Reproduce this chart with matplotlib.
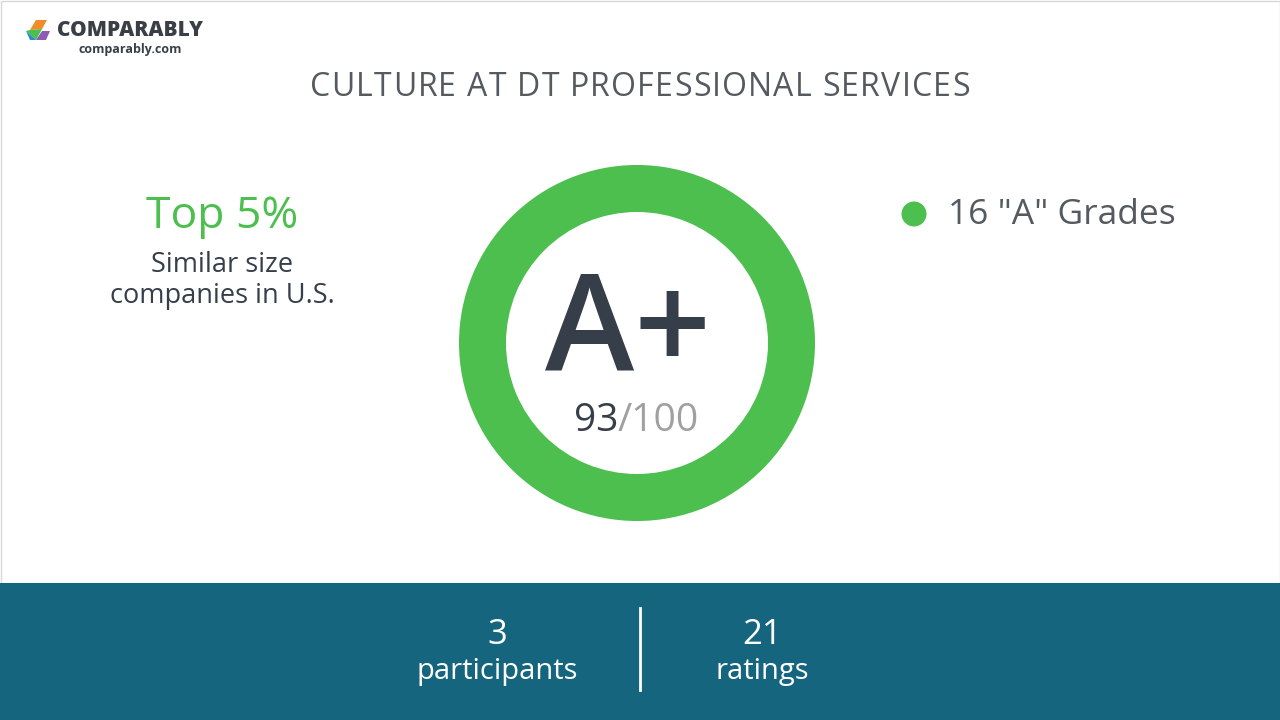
import matplotlib
matplotlib.use('Agg')
import matplotlib.pyplot as plt
from matplotlib.patches import Rectangle, Polygon, Circle

plt.rcParams['font.family'] = ['Open Sans', 'DejaVu Sans']

# Data
company = 'DT PROFESSIONAL SERVICES'
grade = 'A+'
score = 93
score_max = 100
grade_labels = ['A', 'B', 'C', 'D', 'F']
grade_counts = [16, 0, 0, 0, 0]
grade_colors = ['#4cbf4f', '#f5c342', '#f39c3c', '#e8643c', '#d9423c']
percentile = 5
participants = 3
ratings = 21

DARK = '#353e49'
GRAY = '#555a60'
GREEN = '#4cbf4f'
BAND = '#16657f'

fig = plt.figure(figsize=(12.8, 7.2), dpi=100)
ax = fig.add_axes([0, 0, 1, 1])

# donut of grade counts
nz = [(c, col) for c, col in zip(grade_counts, grade_colors) if c > 0]
ax.pie([c for c, _ in nz], colors=[col for _, col in nz], center=(637, 343),
       radius=178, startangle=90, counterclock=False,
       wedgeprops=dict(width=47, linewidth=0))

ax.set_xlim(0, 1280)
ax.set_ylim(720, 0)
ax.set_aspect('equal')
ax.axis('off')

# light frame
ax.add_patch(Rectangle((0.5, 0.5), 1279, 719, fill=False, ec='#d8d8d8', lw=1))

# bottom band
ax.add_patch(Rectangle((0, 583), 1280, 137, fc=BAND, ec='none'))
ax.plot([640, 640], [608, 690], color='white', lw=2)

# logo
ax.add_patch(Polygon([[30, 30], [36, 20], [47, 20], [42, 29]], fc='#f28c28', ec='none'))
ax.add_patch(Polygon([[30, 30], [42, 29], [36, 40], [26, 31]], fc='#4cbf4f', ec='none'))
ax.add_patch(Polygon([[36, 40], [42, 31], [50, 31], [46, 40]], fc='#8e5bb5', ec='none'))
ax.add_patch(Polygon([[26, 31], [36, 40], [30, 40]], fc='#2a8bc9', ec='none'))
ax.text(57, 31, 'COMPARABLY', fontsize=15, fontweight='heavy', color='#3a3f47',
        ha='left', va='center')
ax.text(130, 50, 'comparably.com', fontsize=9, fontweight='bold', color='#3a3f47',
        ha='center', va='center')

# title, letter-spaced to fill x 310..970
title = 'CULTURE AT ' + company
tsize = 23
renderer = fig.canvas.get_renderer()
chars = []
for ch in title:
    t = ax.text(0, 87, ch, fontsize=tsize, color=GRAY, ha='left', va='center')
    w = t.get_window_extent(renderer).width if ch != ' ' else 0
    chars.append((t, ch, w))
space_w = ax.text(0, 0, 'a a', fontsize=tsize).get_window_extent(renderer).width - \
    ax.text(0, 0, 'aa', fontsize=tsize).get_window_extent(renderer).width
for t in ax.texts[-2:]:
    t.remove()
widths = [w if ch != ' ' else space_w for _, ch, w in chars]
track = (660 - sum(widths)) / (len(chars) - 1)
x = 310
for (t, ch, w), wd in zip(chars, widths):
    t.set_x(x)
    x += wd + track

# left text
ax.text(222, 217, 'Top %d%%' % percentile, fontsize=32, color=GREEN,
        ha='center', va='center')
ax.text(222, 265, 'Similar size', fontsize=19.5, color=DARK, ha='center', va='center')
ax.text(222, 296, 'companies in U.S.', fontsize=19.5, color=DARK, ha='center', va='center')

# center grade
ax.text(628, 336, grade, fontsize=97, fontweight='semibold', color=DARK,
        ha='center', va='center')
ax.text(618, 421, str(score), fontsize=28, color=DARK, ha='right', va='center')
ax.text(618, 421, '/%d' % score_max, fontsize=28, color='#a0a0a0', ha='left', va='center')

# legend
for lab, cnt, col in zip(grade_labels, grade_counts, grade_colors):
    if cnt > 0:
        ax.add_patch(Circle((914, 214), 12.5, fc=col, ec='none'))
        ax.text(948, 215, '%d "%s" Grades' % (cnt, lab), fontsize=25.5, color=GRAY,
                ha='left', va='center')

# bottom stats
ax.text(497, 635, str(participants), fontsize=25, color='white', ha='center', va='center')
ax.text(497, 671, 'participants', fontsize=21, color='white', ha='center', va='center')
ax.text(762, 635, str(ratings), fontsize=25, color='white', ha='center', va='center')
ax.text(762, 671, 'ratings', fontsize=21, color='white', ha='center', va='center')

fig.savefig('out.png', dpi=100, facecolor='white')
